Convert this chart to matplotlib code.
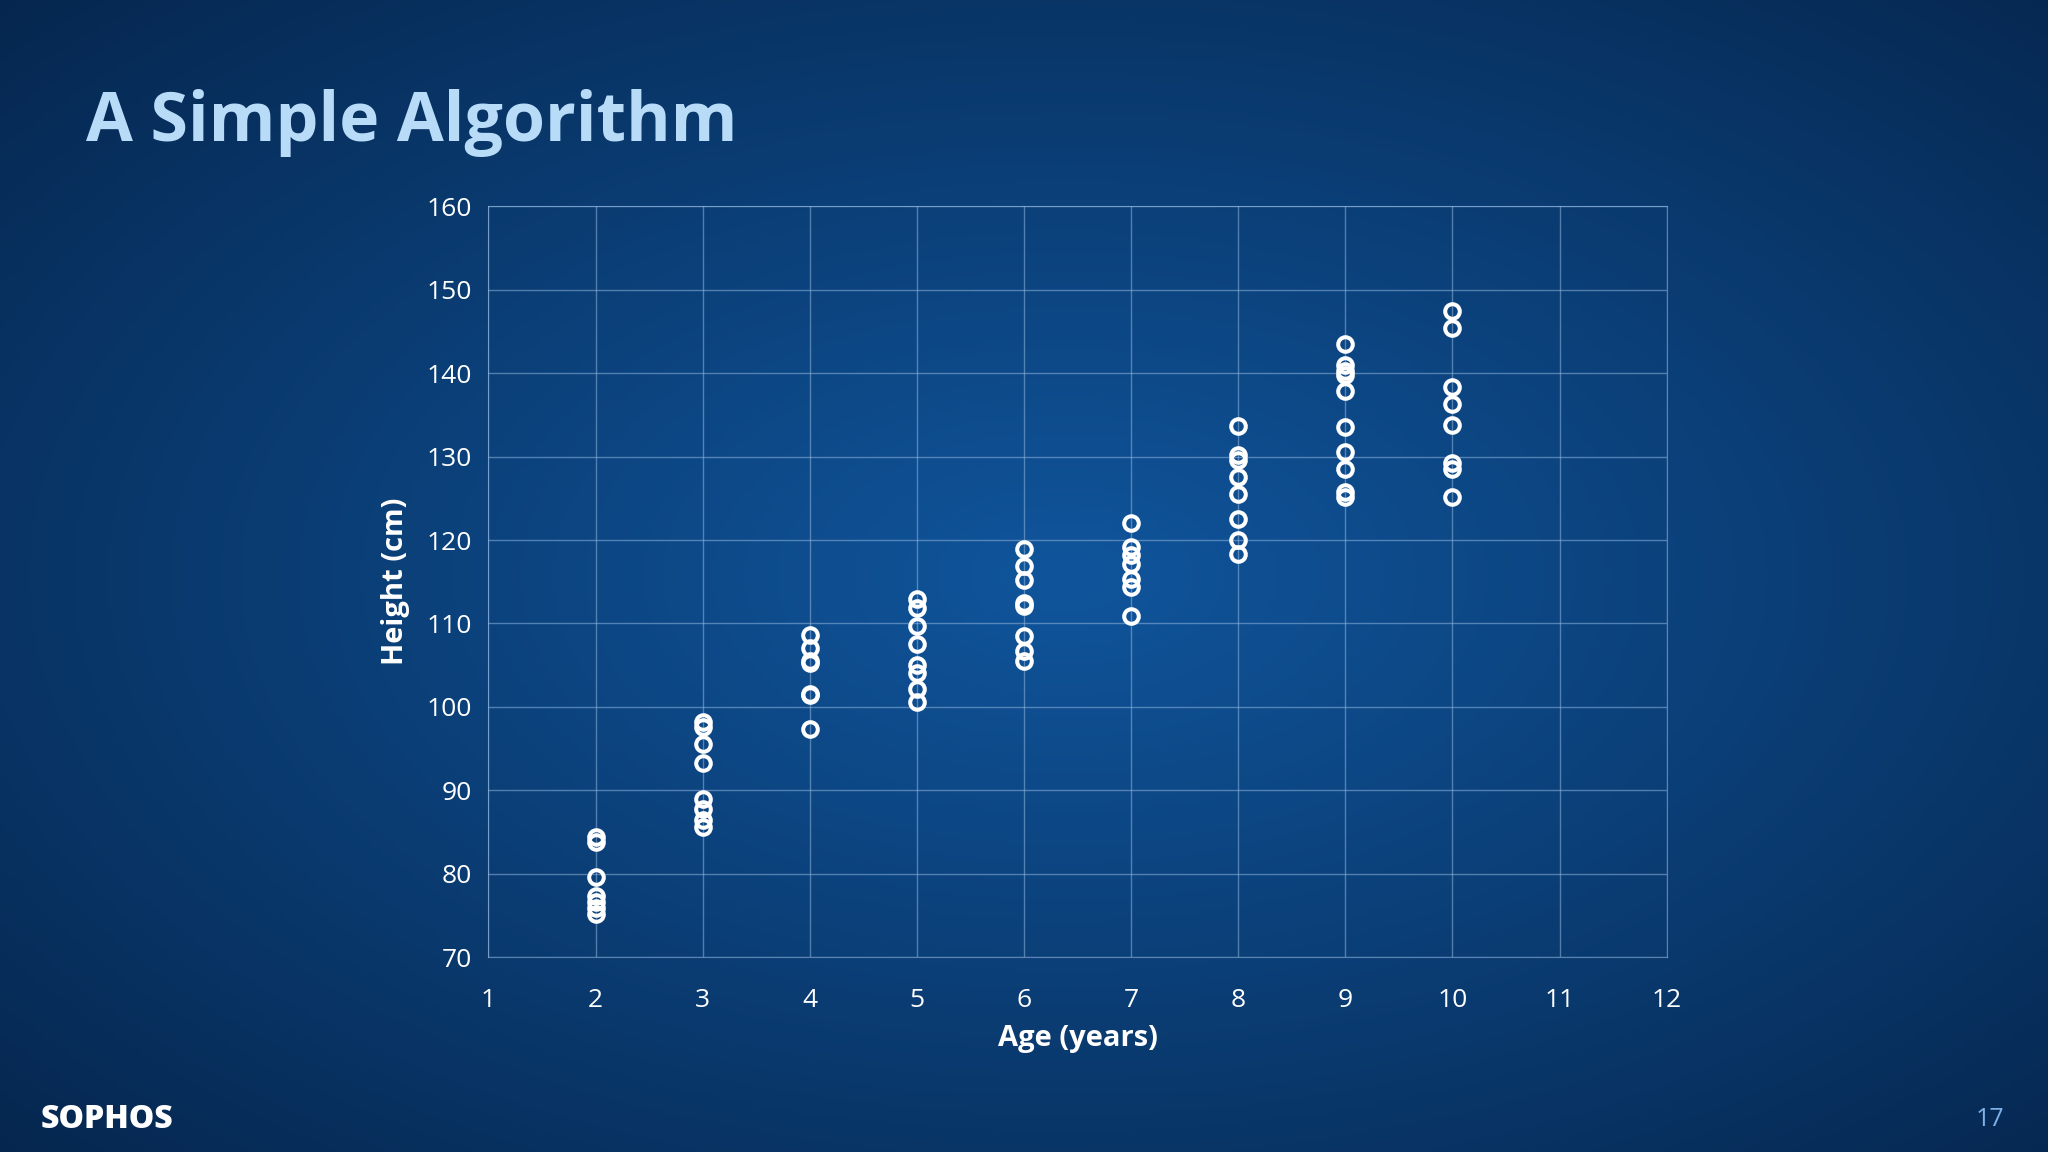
import numpy as np
import matplotlib.pyplot as plt

# data
ages = [2, 3, 4, 5, 6, 7, 8, 9, 10]
heights = [
    [84.4, 83.8, 79.6, 77.4, 76.6, 75.9, 75.2],
    [98.2, 97.6, 95.5, 93.3, 89.0, 87.8, 86.5, 85.6],
    [108.6, 107.1, 105.5, 105.3, 101.6, 101.4, 97.3],
    [112.9, 111.9, 109.7, 107.5, 105.0, 104.1, 102.1, 100.6],
    [118.9, 116.9, 115.2, 112.4, 112.1, 108.5, 106.7, 105.5],
    [122.1, 119.2, 118.2, 117.1, 115.3, 114.4, 110.9],
    [133.7, 130.2, 129.6, 127.6, 125.5, 122.5, 120.0, 118.3],
    [143.5, 141.0, 140.3, 139.8, 137.8, 133.5, 130.6, 128.5, 125.8, 125.2],
    [147.5, 145.4, 138.3, 136.3, 133.8, 129.2, 128.5, 125.2],
]
x_ticks = list(range(1, 13))
y_ticks = list(range(70, 161, 10))

plt.rcParams['font.family'] = ['Open Sans', 'DejaVu Sans']

fig = plt.figure(figsize=(20.48, 11.52), dpi=100)

# radial gradient background
bg = fig.add_axes([0, 0, 1, 1])
yy, xx = np.mgrid[0:1:300j, 0:1:500j]
r = np.sqrt(((xx - 0.52) / 0.75) ** 2 + ((yy - 0.5) / 0.75) ** 2)
r = np.clip(r, 0, 1)
c_in = np.array([0x10, 0x55, 0x9c]) / 255
c_out = np.array([0x05, 0x25, 0x4c]) / 255
img = c_in[None, None, :] * (1 - r[..., None]) + c_out[None, None, :] * r[..., None]
bg.imshow(img, aspect='auto', extent=[0, 1, 0, 1])
bg.axis('off')

fig.text(0.042, 0.893, "A Simple Algorithm", color="#b8dcf8", fontsize=49,
         fontweight="bold", va="center")
fig.text(0.02, 0.028, "SOPHOS", color="white", fontsize=23, fontweight="heavy", va="center")
fig.text(0.9785, 0.028, "17", color="#7fb0e6", fontsize=18, va="center", ha="right")

ax = fig.add_axes([0.2385, 0.169, 0.5753, 0.652])
ax.patch.set_alpha(0)
for a, hs in zip(ages, heights):
    ax.plot([a] * len(hs), hs, ls="none", marker="o", markersize=10.5,
            markerfacecolor="none", markeredgecolor="white", markeredgewidth=2.9, zorder=3)

ax.set_xlim(1, 12)
ax.set_ylim(70, 160)
ax.set_xticks(x_ticks)
ax.set_yticks(y_ticks)
ax.grid(True, color="#8fb4dd", alpha=0.55, lw=1)
for s in ax.spines.values():
    s.set_color("#8fb4dd")
    s.set_alpha(0.6)
ax.tick_params(colors="white", labelsize=19, length=0)
ax.tick_params(axis="x", pad=22)
ax.tick_params(axis="y", pad=12)
ax.set_xlabel("Age (years)", color="white", fontsize=21, fontweight="bold", labelpad=8)
ax.set_ylabel("Height (cm)", color="white", fontsize=21, fontweight="bold", labelpad=12)

fig.savefig("out.png", dpi=100)
